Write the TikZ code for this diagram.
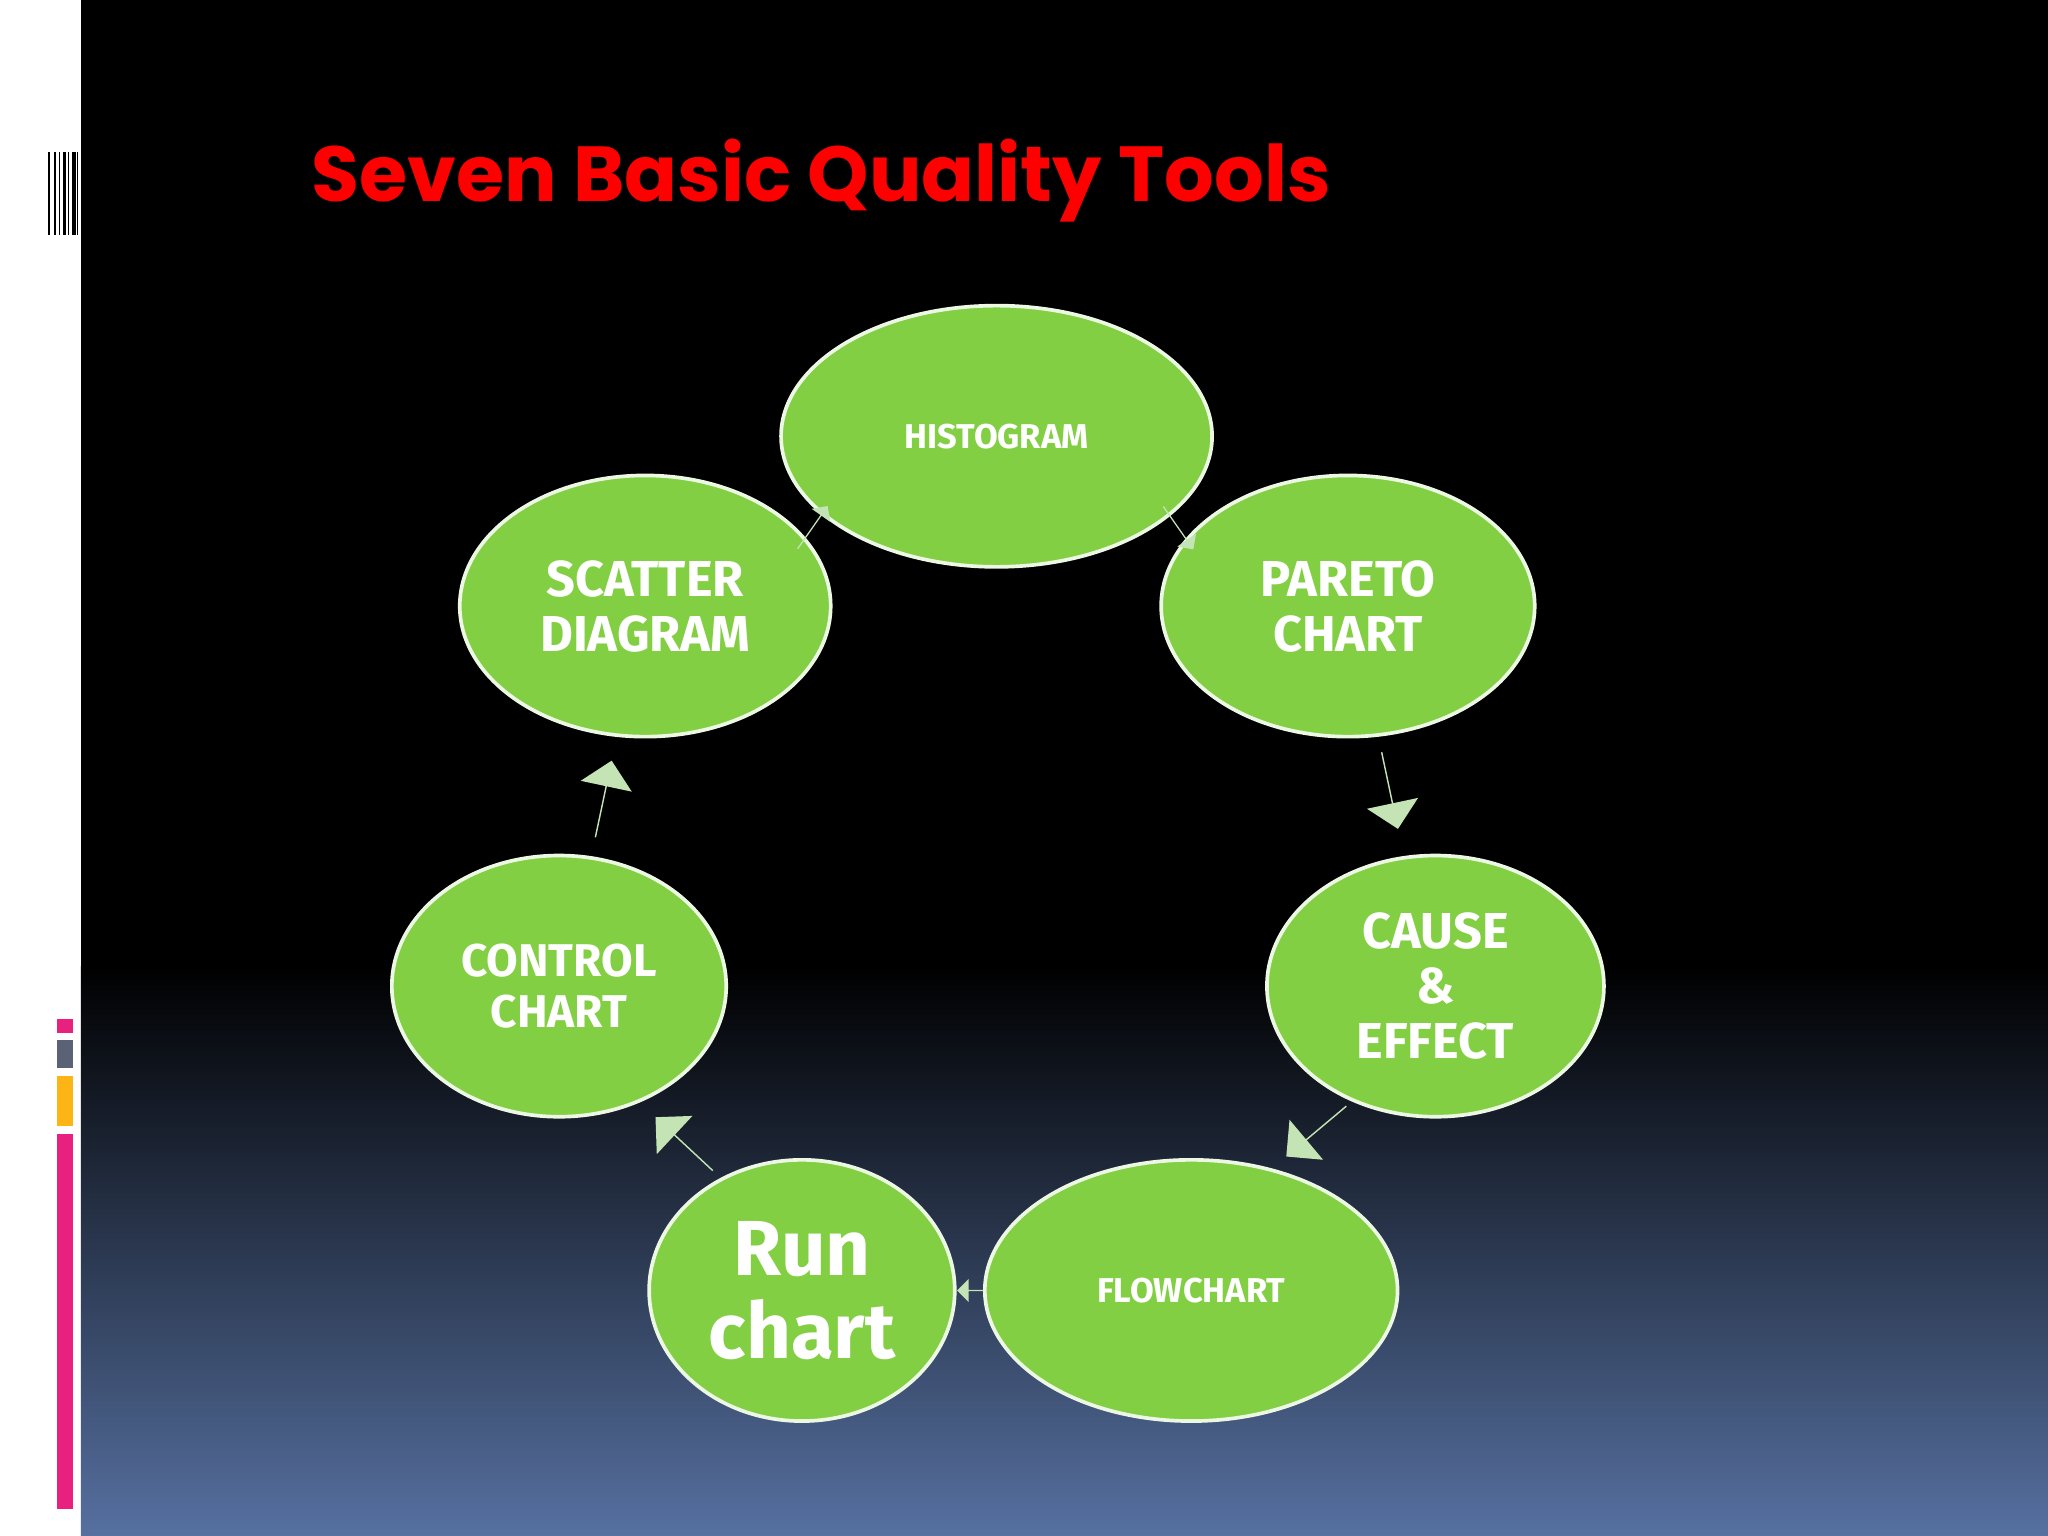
\documentclass[tikz,border=0pt]{standalone}
\usepackage{fontspec}
\setmainfont{Fira Sans}
\newfontfamily\titlefont{Poppins}
\usetikzlibrary{shapes.arrows,shapes.geometric}
\definecolor{leaf}{HTML}{82CF43}
\definecolor{pale}{HTML}{C4E4B5}
\definecolor{navy}{HTML}{5670A0}
\definecolor{pinkbar}{HTML}{E8217F}
\definecolor{orangebar}{HTML}{FDB515}
\definecolor{graybar}{HTML}{5A6275}
\tikzset{
 tool/.style={ellipse,fill=leaf,draw=white!85!leaf,line width=1.6pt,text=white,align=center,font=\bfseries,inner sep=0pt},
 blk/.style={single arrow,fill=pale,draw=none,minimum height=#1*0.02cm,single arrow head extend=0.25cm,minimum width=0.8cm,inner sep=0pt},
}
\begin{document}
\begin{tikzpicture}[x=0.02cm,y=-0.02cm]
\useasboundingbox (0,0) rectangle (1568,1176);
\fill[white] (0,0) rectangle (62,1176);
\fill[black] (62,0) rectangle (1568,740);
\shade[top color=black,bottom color=navy] (62,740) rectangle (1568,1176);
\foreach \x/\w in {37/1.5,41/1.5,45/1,48/2.5,52/1,55/3,59/1}{\fill[black] (\x,116) rectangle (\x+\w,180);}
\fill[pinkbar] (44,780) rectangle (56,791);
\fill[graybar] (44,796) rectangle (56,818);
\fill[orangebar] (44,824) rectangle (56,862);
\fill[pinkbar] (44,868) rectangle (56,1155);
\node[anchor=west,text=red,font=\titlefont\bfseries\fontsize{34}{40}\selectfont] (title) at (232,138) {Seven Basic Quality Tools};
\node[tool,minimum width=330*0.02cm,minimum height=200*0.02cm,font=\bfseries\fontsize{15}{17}\selectfont] (h) at (763,334) {HISTOGRAM};
\node[tool,minimum width=286*0.02cm,minimum height=200*0.02cm,font=\bfseries\fontsize{22}{24}\selectfont] (p) at (1032,464) {PARETO\\CHART};
\node[tool,minimum width=258*0.02cm,minimum height=200*0.02cm,font=\bfseries\fontsize{22}{24}\selectfont] (c) at (1099,755) {CAUSE\\\&\\EFFECT};
\node[tool,minimum width=316*0.02cm,minimum height=200*0.02cm,font=\bfseries\fontsize{15}{17}\selectfont] (f) at (912,988) {FLOWCHART};
\node[tool,minimum width=234*0.02cm,minimum height=200*0.02cm,font=\bfseries\fontsize{34}{36}\selectfont] (r) at (614,988) {Run\\chart};
\node[tool,minimum width=256*0.02cm,minimum height=200*0.02cm,font=\bfseries\fontsize{20}{22}\selectfont] (k) at (428,755) {CONTROL\\CHART};
\node[tool,minimum width=284*0.02cm,minimum height=200*0.02cm,font=\bfseries\fontsize{22}{24}\selectfont] (s) at (494,464) {SCATTER\\DIAGRAM};
\node[blk=40,rotate=-55,minimum width=0.35cm,single arrow head extend=0.12cm] (a1) at (902,404) {};
\node[blk=60,rotate=-78] (a2) at (1064,605) {};
\node[blk=60,rotate=-140] (a3) at (1008,866) {};
\node[blk=20,rotate=180,minimum width=0.35cm,single arrow head extend=0.12cm] (a4) at (743,988) {};
\node[blk=60,rotate=137] (a5) at (524,876) {};
\node[blk=60,rotate=78] (a6) at (462,612) {};
\node[blk=40,rotate=55,minimum width=0.35cm,single arrow head extend=0.12cm] (a7) at (622,404) {};
\end{tikzpicture}
\end{document}
